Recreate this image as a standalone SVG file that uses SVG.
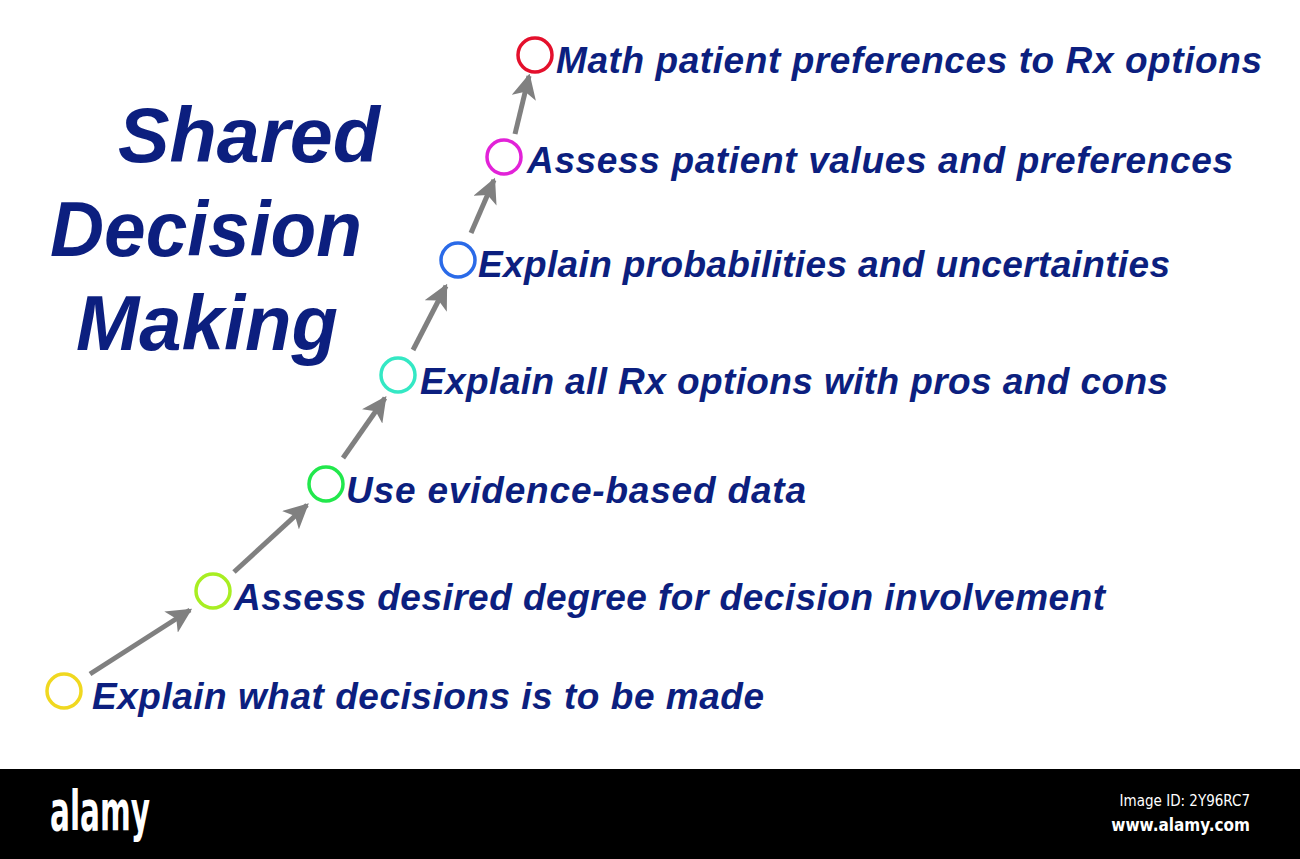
<svg xmlns="http://www.w3.org/2000/svg" width="1300" height="859" viewBox="0 0 1300 859">
<style>
.step{font-family:"Liberation Sans",Arial,sans-serif;font-weight:bold;font-style:italic;font-size:37px;fill:#0c1f7f}
.title{font-family:"Liberation Sans",Arial,sans-serif;font-weight:bold;font-style:italic;font-size:77px;fill:#0c1f7f}
.ring{fill:none;stroke-width:3.5}
.conn{stroke:#808080;stroke-width:5;fill:none;marker-end:url(#ah)}
</style>
<defs>
<marker id="ah" viewBox="0 0 10 10" refX="9" refY="5" markerWidth="5" markerHeight="5" orient="auto" markerUnits="strokeWidth">
<path d="M0,0 L10,5 L0,10 L2.5,5 Z" fill="#808080"/>
</marker>
</defs>
<rect width="1300" height="859" fill="#ffffff"/>
<g id="title">
<text class="title" x="118" y="162" textLength="262" lengthAdjust="spacingAndGlyphs">Shared</text>
<text class="title" x="50" y="256" textLength="312" lengthAdjust="spacingAndGlyphs">Decision</text>
<text class="title" x="76" y="350" textLength="262" lengthAdjust="spacingAndGlyphs">Making</text>
</g>
<g id="connectors">
<line class="conn" x1="90" y1="674" x2="190" y2="610"/>
<line class="conn" x1="234" y1="572" x2="307" y2="505"/>
<line class="conn" x1="343" y1="458" x2="385" y2="398"/>
<line class="conn" x1="413" y1="350" x2="446" y2="286"/>
<line class="conn" x1="471" y1="233" x2="494" y2="180"/>
<line class="conn" x1="515" y1="134" x2="529" y2="76"/>
</g>
<g id="step1">
<circle class="ring" cx="64" cy="691" r="17" stroke="#f0d820"/>
<text class="step" x="92" y="709" textLength="672">Explain what decisions is to be made</text>
</g>
<g id="step2">
<circle class="ring" cx="213" cy="591" r="17" stroke="#a8ee22"/>
<text class="step" x="234" y="610" textLength="871">Assess desired degree for decision involvement</text>
</g>
<g id="step3">
<circle class="ring" cx="326" cy="484" r="17" stroke="#22e84c"/>
<text class="step" x="346" y="503" textLength="460">Use evidence-based data</text>
</g>
<g id="step4">
<circle class="ring" cx="398" cy="375" r="17" stroke="#34e8c4"/>
<text class="step" x="420" y="394" textLength="748">Explain all Rx options with pros and cons</text>
</g>
<g id="step5">
<circle class="ring" cx="458" cy="260" r="17" stroke="#2a6ae8"/>
<text class="step" x="478" y="277" textLength="692">Explain probabilities and uncertainties</text>
</g>
<g id="step6">
<circle class="ring" cx="504" cy="157" r="17" stroke="#e222d8"/>
<text class="step" x="527" y="173" textLength="706">Assess patient values and preferences</text>
</g>
<g id="step7">
<circle class="ring" cx="535" cy="55" r="17" stroke="#e4102c"/>
<text class="step" x="556" y="73" textLength="706">Math patient preferences to Rx options</text>
</g>
<g id="watermark">
<rect x="0" y="769" width="1300" height="90" fill="#000000"/>
<text x="50" y="830" font-family="'DejaVu Sans Condensed','Liberation Sans Narrow',sans-serif" font-weight="bold" font-size="56" fill="#ffffff" textLength="100" lengthAdjust="spacingAndGlyphs">alamy</text>
<text x="1250" y="806" text-anchor="end" font-family="'DejaVu Sans Condensed','Liberation Sans Narrow',sans-serif" font-size="15" fill="#ffffff">Image ID: 2Y96RC7</text>
<text x="1250" y="831" text-anchor="end" font-family="'DejaVu Sans Condensed','Liberation Sans Narrow',sans-serif" font-weight="bold" font-size="17" fill="#ffffff">www.alamy.com</text>
</g>
</svg>
